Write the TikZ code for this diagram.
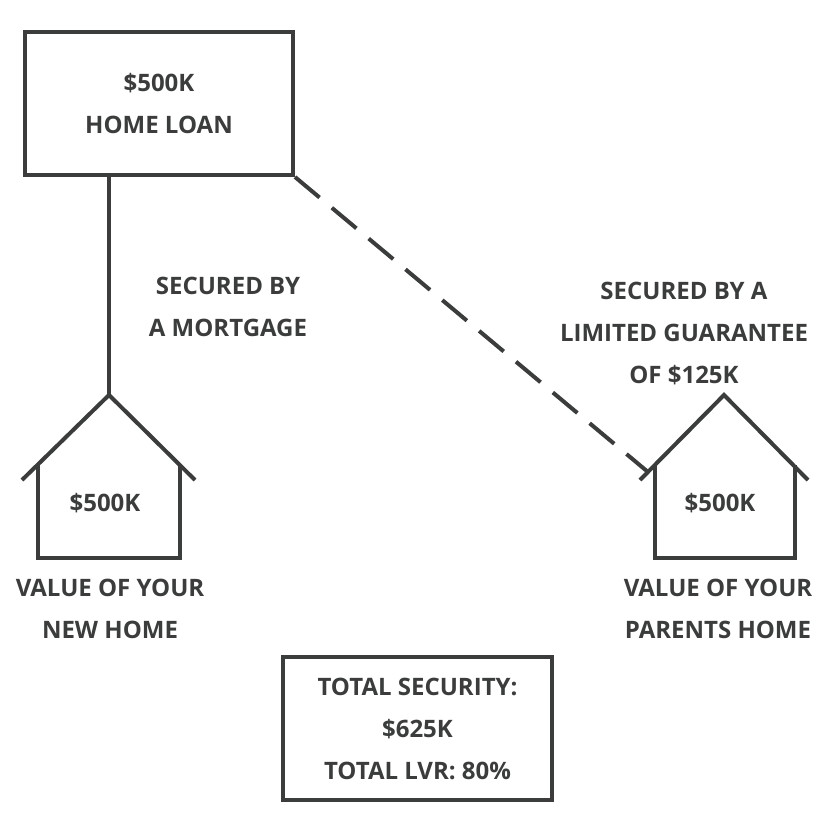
\documentclass[tikz,border=0pt]{standalone}
\usepackage{fontspec}
\setmainfont{Open Sans}
\definecolor{ink}{HTML}{3A3D3C}
\tikzset{
   line/.style ={
      -, line width=2pt, color=ink,
   },
   label/.style ={
      font=\bfseries\fontsize{12}{21}\selectfont, text=ink, align=center,
   },
}
\begin{document}
\begin{tikzpicture}[x=0.5pt,y=-0.5pt]
      \useasboundingbox (0,0) rectangle (836,832);

      \node[
         rectangle,
         draw=ink,
         line width=2pt,
         minimum width=134pt,
         minimum height=71.5pt,
         label,
      ] (loan) at (159,103.5){\$500K\\HOME LOAN};

      \node[
         rectangle,
         draw=ink,
         line width=2pt,
         minimum width=134.5pt,
         minimum height=71.5pt,
         label,
      ] (total) at (417.5,728.5){TOTAL SECURITY:\\\$625K\\TOTAL LVR: 80\%};

      % houses
      \draw[line] (22,480) -- (109,395) -- (195,480);
      \draw[line] (38,465) -- (38,558) -- (180,558) -- (180,465);
      \draw[line] (640,480) -- (724,395) -- (808,480);
      \draw[line] (655,465) -- (655,558) -- (795,558) -- (795,465);
      \coordinate (newtop) at (109,395);
      \coordinate (parroof) at (648,472);

      \node[label] (newval) at (105,503) {\$500K};
      \node[label] (parval) at (720,503) {\$500K};
      \node[label] (newtxt) at (110,609) {VALUE OF YOUR\\NEW HOME};
      \node[label] (partxt) at (718,609) {VALUE OF YOUR\\PARENTS HOME};

      \node[label] (mortgage) at (228,307) {SECURED BY\\A MORTGAGE};
      \node[label] (guarantee) at (684,333) {SECURED BY A\\LIMITED GUARANTEE\\OF \$125K};

      \draw[line] (loan.south -| newtop) -- (newtop);
      \draw[line, dash pattern=on 16pt off 8pt] (loan.south east) -- (parroof);

   \end{tikzpicture}
\end{document}
